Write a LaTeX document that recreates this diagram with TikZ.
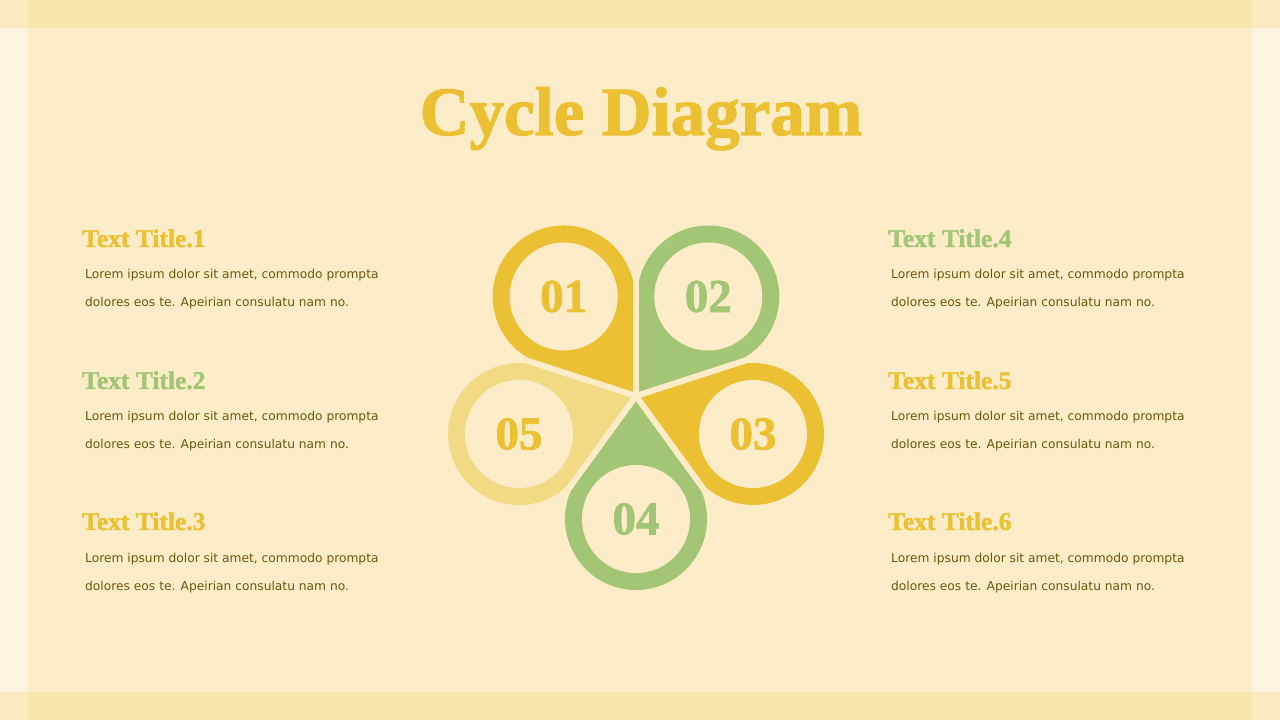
\documentclass[tikz,border=0pt]{standalone}
\usepackage{fontspec}
\setmainfont{Liberation Serif}
\newfontfamily\heavyfont[FakeBold=1.6]{Liberation Serif Bold}
\newfontfamily\bodyfont{DejaVu Sans}
\usetikzlibrary{calc}
\definecolor{bg}{HTML}{FCEDC8}
\definecolor{band}{HTML}{F9E5AE}
\definecolor{strip}{HTML}{FDF4E0}
\definecolor{corner}{HTML}{FBEBC2}
\definecolor{yel}{HTML}{EBC032}
\definecolor{grn}{HTML}{A3C576}
\definecolor{lyel}{HTML}{F2D984}
\definecolor{bodytxt}{HTML}{6B570E}
\tikzset{
  maintitle/.style={font=\heavyfont\fontsize{69}{84}\selectfont, text=yel, inner sep=0pt, anchor=base},
  numtxt/.style={font=\heavyfont\fontsize{47}{52}\selectfont, inner sep=0pt},
  ttl/.style={font=\heavyfont\fontsize{25.5}{30}\selectfont, inner sep=0pt, anchor=base west},
  bodyline/.style={font=\bodyfont\fontsize{12.25}{14}\selectfont, text=bodytxt, inner sep=0pt, anchor=base west},
  gapline/.style={draw=bg, line width=6pt}
}
\begin{document}
\begin{tikzpicture}[x=1pt,y=1pt]
\useasboundingbox (0,0) rectangle (1280,720);
\fill[bg] (0,0) rectangle (1280,720);
\fill[band] (28,692) rectangle (1252,720);
\fill[band] (28,0) rectangle (1252,28);
\fill[strip] (0,28) rectangle (28,692);
\fill[strip] (1252,28) rectangle (1280,692);
\fill[corner] (0,692) rectangle (28,720);
\fill[corner] (1252,692) rectangle (1280,720);
\fill[corner] (0,0) rectangle (28,28);
\fill[corner] (1252,0) rectangle (1280,28);

\node[maintitle] (title) at (641,585) {Cycle Diagram};

\coordinate (O) at (636,324);
\def\dd{123}
\def\rr{71}
\def\ri{54}
\pgfmathsetmacro\bb{acos(\rr/\dd)}
\foreach \a/\col in {126/yel, 54/grn, -18/yel, -90/grn, 198/lyel}{
  \fill[\col] (O) -- ($(O)+(\a:\dd)+(\a+180-\bb:\rr)$)
    arc[start angle=\a+180-\bb, end angle=\a-180+\bb, radius=\rr] -- cycle;
}
\foreach \a in {126, 54, -18, -90, 198}{
  \draw[gapline] (O) -- ++(\a+36:150);
}
\foreach \a/\num/\ncol in {126/01/yel, 54/02/grn, -18/03/yel, -90/04/grn, 198/05/yel}{
  \fill[bg] ($(O)+(\a:\dd)$) circle[radius=\ri];
  \node[numtxt, text=\ncol] (n\num) at ($(O)+(\a:\dd)$) {\num};
}

\node[ttl, text=yel] (t1) at (82,473) {Text Title.1};
\node[bodyline] (b1a) at (85,441) {Lorem ipsum dolor sit amet, commodo prompta};
\node[bodyline] (b1b) at (85,413) {dolores eos te. Apeirian consulatu nam no.};
\node[ttl, text=grn] (t2) at (82,331) {Text Title.2};
\node[bodyline] (b2a) at (85,299) {Lorem ipsum dolor sit amet, commodo prompta};
\node[bodyline] (b2b) at (85,271) {dolores eos te. Apeirian consulatu nam no.};
\node[ttl, text=yel] (t3) at (82,190) {Text Title.3};
\node[bodyline] (b3a) at (85,157) {Lorem ipsum dolor sit amet, commodo prompta};
\node[bodyline] (b3b) at (85,129) {dolores eos te. Apeirian consulatu nam no.};

\node[ttl, text=grn] (t4) at (888,473) {Text Title.4};
\node[bodyline] (b4a) at (891,441) {Lorem ipsum dolor sit amet, commodo prompta};
\node[bodyline] (b4b) at (891,413) {dolores eos te. Apeirian consulatu nam no.};
\node[ttl, text=yel] (t5) at (888,331) {Text Title.5};
\node[bodyline] (b5a) at (891,299) {Lorem ipsum dolor sit amet, commodo prompta};
\node[bodyline] (b5b) at (891,271) {dolores eos te. Apeirian consulatu nam no.};
\node[ttl, text=yel] (t6) at (888,190) {Text Title.6};
\node[bodyline] (b6a) at (891,157) {Lorem ipsum dolor sit amet, commodo prompta};
\node[bodyline] (b6b) at (891,129) {dolores eos te. Apeirian consulatu nam no.};
\end{tikzpicture}
\end{document}
